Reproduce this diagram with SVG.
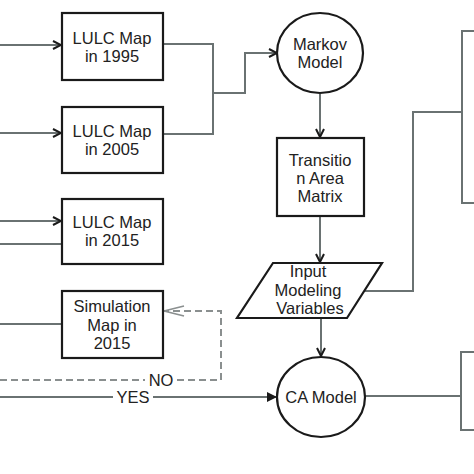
<svg xmlns="http://www.w3.org/2000/svg" width="474" height="474" viewBox="0 0 474 474">
<defs>
<style>
.box{fill:#fff;stroke:#1a1a1a;stroke-width:2.2}
.t{font-family:"Liberation Sans",Arial,sans-serif;font-size:16.5px;fill:#222;text-anchor:middle}
.c{fill:none;stroke:#6a7272;stroke-width:2}
.d{fill:none;stroke:#8a8f8f;stroke-width:2;stroke-dasharray:7,4}
</style>
<marker id="ch" viewBox="0 0 10 10" refX="9" refY="5" markerWidth="10" markerHeight="10" markerUnits="userSpaceOnUse" orient="auto">
<path d="M1,1 L9,5 L1,9" fill="none" stroke="#1a1a1a" stroke-width="2"/>
</marker>
<marker id="chd" viewBox="0 0 22 12" refX="21" refY="6" markerWidth="22" markerHeight="12" markerUnits="userSpaceOnUse" orient="auto">
<path d="M1,1 L21,6 L1,11" fill="none" stroke="#8a8f8f" stroke-width="1.6"/>
</marker>
<marker id="tri" viewBox="0 0 10 10" refX="10" refY="5" markerWidth="10" markerHeight="10" markerUnits="userSpaceOnUse" orient="auto">
<path d="M0,0 L10,5 L0,10 Z" fill="#1a1a1a"/>
</marker>
</defs>
<rect width="474" height="474" fill="#fff"/>
<g id="connectors">
<path class="c" d="M0,45 H61" marker-end="url(#ch)"/>
<path class="c" d="M0,133 H61" marker-end="url(#ch)"/>
<path class="c" d="M0,221 H61" marker-end="url(#ch)"/>
<path class="c" d="M0,244 H62"/>
<path class="c" d="M0,324 H62"/>
<path class="c" d="M163,44 H213 V134 H163"/>
<path class="c" d="M213,93 H245 V53 H277" marker-end="url(#ch)"/>
<path class="c" d="M320,94 V137" marker-end="url(#ch)"/>
<path class="c" d="M320,216 V262" marker-end="url(#ch)"/>
<path class="c" d="M321,318 V356" marker-end="url(#ch)"/>
<path class="c" d="M364,291 H413 V112 H462"/>
<path class="c" d="M474,31 H462 V203 H474"/>
<path class="c" d="M365,396 H461"/>
<path class="c" d="M474,352 H461 V430 H474"/>
<path class="c" d="M0,397 H113 M153,397 H277" marker-end="url(#tri)"/>
<path class="d" d="M0,380 H145 M177,380 H221 V311 H164" marker-end="url(#chd)"/>
<text class="t" x="133" y="403">YES</text>
<text class="t" x="161" y="386">NO</text>
</g>
<g id="lulc1995">
<rect class="box" x="62" y="13" width="101" height="67"/>
<text class="t" x="112" y="44">LULC Map</text>
<text class="t" x="112" y="62">in 1995</text>
</g>
<g id="lulc2005">
<rect class="box" x="62" y="107" width="101" height="66"/>
<text class="t" x="112" y="137">LULC Map</text>
<text class="t" x="112" y="155">in 2005</text>
</g>
<g id="lulc2015">
<rect class="box" x="62" y="199" width="101" height="65"/>
<text class="t" x="112" y="228">LULC Map</text>
<text class="t" x="112" y="246">in 2015</text>
</g>
<g id="simulation">
<rect class="box" x="62" y="291" width="101" height="67"/>
<text class="t" x="112" y="312">Simulation</text>
<text class="t" x="112" y="331">Map in</text>
<text class="t" x="112" y="349">2015</text>
</g>
<g id="markov">
<ellipse class="box" cx="320" cy="53" rx="43" ry="40"/>
<text class="t" x="320" y="50">Markov</text>
<text class="t" x="320" y="68">Model</text>
</g>
<g id="transition">
<rect class="box" x="277" y="138" width="87" height="78"/>
<text class="t" x="320" y="166">Transitio</text>
<text class="t" x="320" y="184">n Area</text>
<text class="t" x="320" y="202">Matrix</text>
</g>
<g id="input">
<polygon class="box" points="273,263 382,263 347,318 237,318"/>
<text class="t" x="308" y="277">Input</text>
<text class="t" x="308" y="296">Modeling</text>
<text class="t" x="310" y="314">Variables</text>
</g>
<g id="ca">
<ellipse class="box" cx="321" cy="397" rx="44" ry="40"/>
<text class="t" x="321" y="403">CA Model</text>
</g>
</svg>
